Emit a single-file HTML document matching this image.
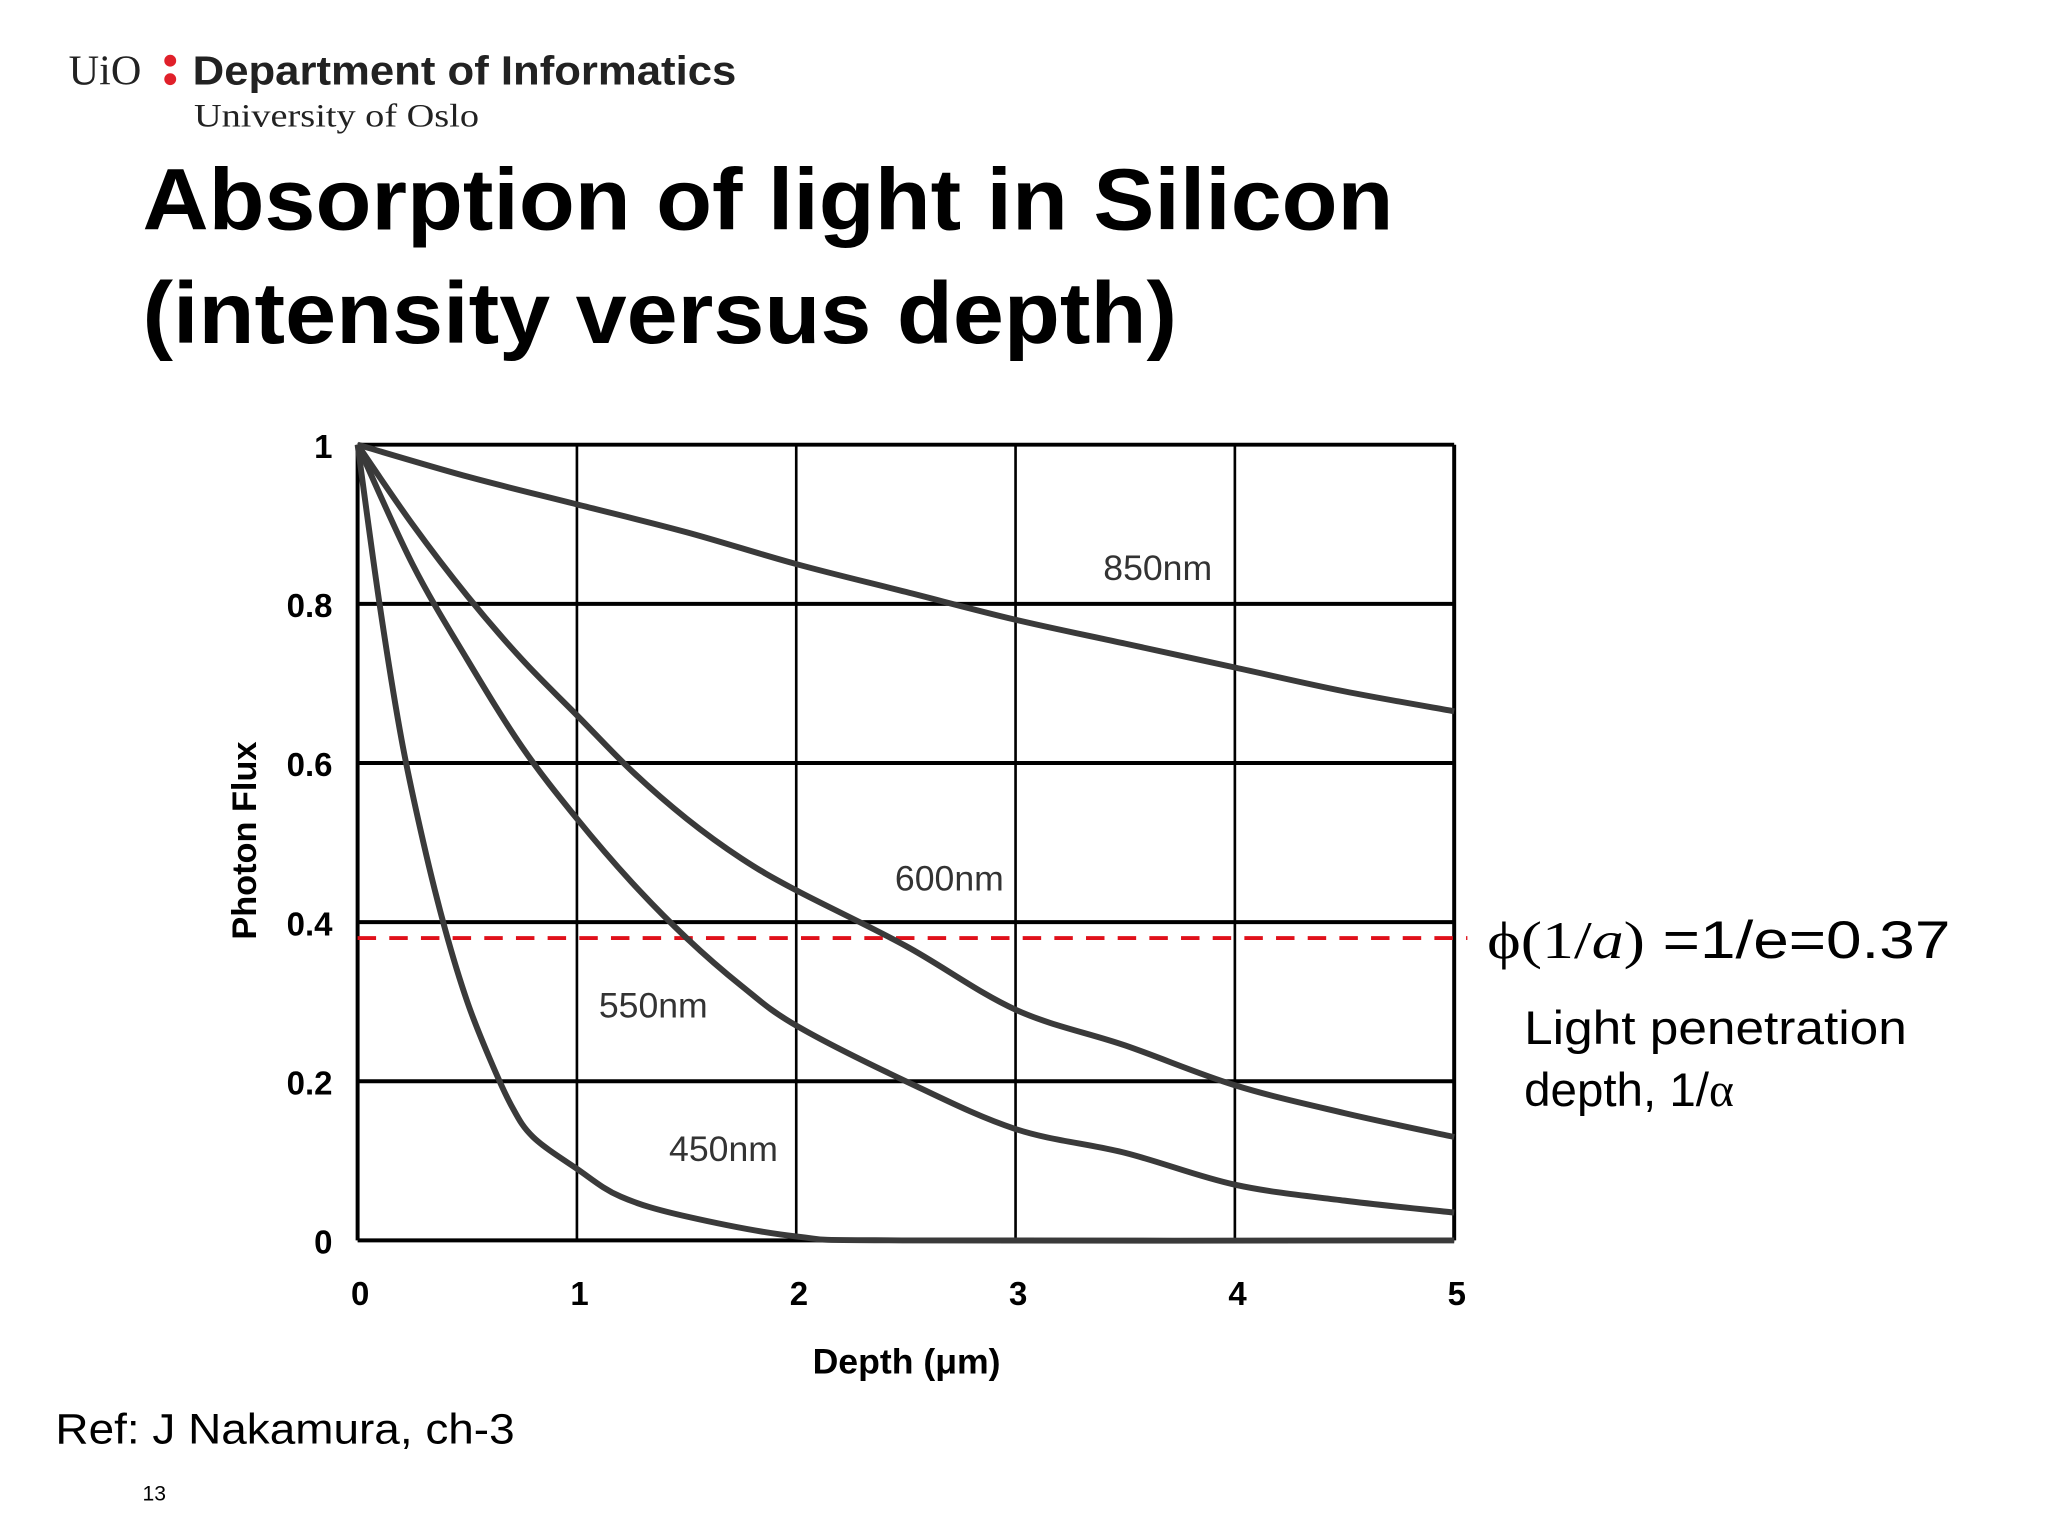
<!DOCTYPE html>
<html><head><meta charset="utf-8"><style>
html,body{margin:0;padding:0;background:#fff;}
svg{display:block;}
text{font-family:"Liberation Sans",sans-serif;}
</style></head><body>
<svg id="chart" width="2048" height="1536" viewBox="0 0 1552 1164" xmlns="http://www.w3.org/2000/svg">
<g>
<text x="52" y="64" font-size="32" fill="#222" style="font-family:'Liberation Serif',serif">UiO</text>
<circle cx="129" cy="46" r="4.5" fill="#e0202a"/>
<circle cx="129" cy="60" r="4.5" fill="#e0202a"/>
<text x="146" y="64" font-size="31" font-weight="bold" fill="#222" textLength="412" lengthAdjust="spacingAndGlyphs">Department of Informatics</text>
<text x="147" y="96" font-size="25" fill="#222" textLength="216" lengthAdjust="spacingAndGlyphs" style="font-family:'Liberation Serif',serif">University of Oslo</text>
</g>
<text x="108" y="174" font-size="66" font-weight="bold" fill="#000" textLength="948" lengthAdjust="spacingAndGlyphs">Absorption of light in Silicon</text>
<text x="108" y="260" font-size="66" font-weight="bold" fill="#000" textLength="784" lengthAdjust="spacingAndGlyphs">(intensity versus depth)</text>
<g id="plot"></g>
<text x="1127" y="726" font-size="40" fill="#000" textLength="351" lengthAdjust="spacingAndGlyphs"><tspan style="font-family:'Liberation Serif',serif">ϕ(1/</tspan><tspan style="font-family:'Liberation Serif',serif" font-style="italic">a</tspan><tspan style="font-family:'Liberation Serif',serif">)</tspan> =1/e=0.37</text>
<text x="1155" y="791" font-size="36" fill="#000" textLength="290" lengthAdjust="spacingAndGlyphs">Light penetration</text>
<text x="1155" y="838" font-size="36" fill="#000">depth, 1/<tspan style="font-family:'Liberation Serif',serif">α</tspan></text>
<text x="42" y="1094" font-size="32" fill="#000" textLength="348" lengthAdjust="spacingAndGlyphs">Ref: J Nakamura, ch-3</text>
<text x="108" y="1137" font-size="16" fill="#000">13</text>
</svg>
<script>
const xTicks=[0,1,2,3,4,5];
const yTicks=[0,0.2,0.4,0.6,0.8,1];
const yTickLabels=["0","0.2","0.4","0.6","0.8","1"];
const seriesNames=["850nm","600nm","550nm","450nm"];
const depth850=[0,0.5,1,1.5,2,2.5,3,3.5,4,4.5,5];
const flux850=[1,0.96,0.925,0.89,0.85,0.815,0.78,0.75,0.72,0.69,0.665];
const depth600=[0,0.25,0.5,0.75,1,1.25,1.5,1.75,2,2.5,3,3.5,4,4.5,5];
const flux600=[1,0.9,0.81,0.73,0.66,0.59,0.53,0.48,0.44,0.37,0.29,0.245,0.195,0.16,0.13];
const depth550=[0,0.25,0.5,0.75,1,1.25,1.5,1.75,2,2.5,3,3.5,4,4.5,5];
const flux550=[1,0.85,0.73,0.62,0.53,0.45,0.38,0.32,0.27,0.2,0.14,0.11,0.07,0.05,0.035];
const depth450=[0,0.1,0.2,0.3,0.4,0.5,0.6,0.7,0.8,1,1.2,1.5,2,2.5,5];
const flux450=[1,0.8,0.63,0.5,0.39,0.3,0.23,0.17,0.13,0.09,0.055,0.03,0.005,0,0];
const labelPos=[[3.4,0.83],[2.45,0.44],[1.1,0.28],[1.42,0.1]];
const threshold=0.38;
const NS="http://www.w3.org/2000/svg";
const X0=271,X1=1102,Y0=940,Y1=337;
const sx=v=>X0+(X1-X0)*v/5, sy=v=>Y0-(Y0-Y1)*v;
const g=document.getElementById('plot');
function mk(t,a){const e=document.createElementNS(NS,t);for(const k in a)e.setAttribute(k,a[k]);g.appendChild(e);return e;}
function smooth(xs,ys){let d='M'+sx(xs[0])+','+sy(ys[0]);const P=xs.map((x,i)=>[sx(x),sy(ys[i])]);
 for(let i=0;i<P.length-1;i++){const p0=P[Math.max(0,i-1)],p1=P[i],p2=P[i+1],p3=P[Math.min(P.length-1,i+2)];
  const c1=[p1[0]+(p2[0]-p0[0])/6,p1[1]+(p2[1]-p0[1])/6],c2=[p2[0]-(p3[0]-p1[0])/6,p2[1]-(p3[1]-p1[1])/6];
  d+=' C'+c1+' '+c2+' '+p2;}return d;}
xTicks.forEach(t=>{
 const l=mk('line',{x1:sx(t),x2:sx(t),y1:Y1,y2:Y0,stroke:'#000','stroke-width':t==0||t==5?3:2});
 
 
 const tx=mk('text',{x:sx(t)+2,y:989,'text-anchor':'middle','font-size':25,'font-weight':'bold'});tx.textContent=t;
 
 
});
yTicks.forEach((t,i)=>{
 const l=mk('line',{x1:X0,x2:X1,y1:sy(t),y2:sy(t),stroke:'#000','stroke-width':3});
 
 
 const tx=mk('text',{x:252,y:sy(t)+10,'text-anchor':'end','font-size':25,'font-weight':'bold'});tx.textContent=yTickLabels[i];
 
 
});
const rl=mk('line',{x1:X0,x2:1112,y1:sy(threshold),y2:sy(threshold),stroke:'#e0101a','stroke-width':3,'stroke-dasharray':'14 10'});


const series=[[depth850,flux850],[depth600,flux600],[depth550,flux550],[depth450,flux450]];
series.forEach((s,i)=>{
 const p=mk('path',{d:smooth(s[0],s[1]),fill:'none',stroke:'#3a3a3a','stroke-width':4.5,'stroke-linejoin':'round'});
 
 
 const t=mk('text',{x:sx(labelPos[i][0]),y:sy(labelPos[i][1]),'font-size':27,fill:'#333'});t.textContent=seriesNames[i];
 
 
});
const xt=mk('text',{x:687,y:1041,'text-anchor':'middle','font-size':27,'font-weight':'bold'});xt.textContent='Depth  (μm)';


const yt=mk('text',{x:0,y:0,'text-anchor':'middle','font-size':26,'font-weight':'bold',transform:'translate(194,637) rotate(-90)'});yt.textContent='Photon Flux';


</script>
</body></html>
